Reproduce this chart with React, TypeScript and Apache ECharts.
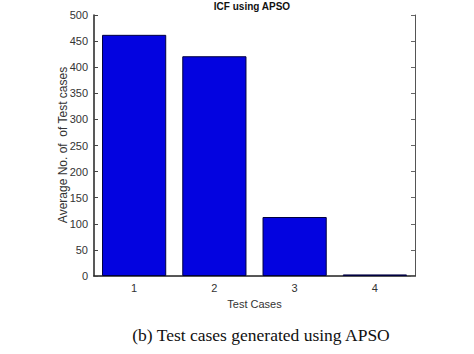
import React, { useEffect, useRef } from "react";
import * as echarts from "echarts";

const categories = ["1", "2", "3", "4"];
const values = [462, 421, 113, 3];
const yTicks = { min: 0, max: 500, interval: 50 };
const titleText = "ICF using APSO";
const xName = "Test Cases";
const yName = "Average No. of  of Test cases";
const caption = "(b) Test cases generated using APSO";

export default function App() {
  const ref = useRef<HTMLDivElement>(null);
  useEffect(() => {
    const chart = echarts.init(ref.current!, null, { renderer: "svg" });
    const font = "Liberation Sans, Arial, sans-serif";
    chart.setOption({
      animation: false,
      backgroundColor: "#fff",
      grid: { left: 94, right: 59, top: 15, bottom: 78 },
      xAxis: [
        {
          type: "category",
          data: categories,
          position: "bottom",
          axisLine: { lineStyle: { color: "#222", width: 1.5 } },
          axisTick: { inside: true, alignWithLabel: true, length: 4, lineStyle: { color: "#444" } },
          axisLabel: { color: "#333", fontSize: 11, fontFamily: font, margin: 6 },
          name: xName,
          nameLocation: "middle",
          nameGap: 22,
          nameTextStyle: { color: "#333", fontSize: 11, fontFamily: font },
        },
        {
          type: "category",
          data: categories,
          position: "top",
          axisLine: { lineStyle: { color: "#555", width: 1 } },
          axisTick: { inside: true, alignWithLabel: true, length: 4, lineStyle: { color: "#666" } },
          axisLabel: { show: false },
        },
      ],
      yAxis: [
        {
          type: "value",
          min: yTicks.min,
          max: yTicks.max,
          interval: yTicks.interval,
          position: "left",
          splitLine: { show: false },
          axisLine: { show: true, lineStyle: { color: "#222", width: 1.5 } },
          axisTick: { show: true, inside: true, length: 4, lineStyle: { color: "#444" } },
          axisLabel: { color: "#333", fontSize: 11, fontFamily: font, margin: 6 },
        },
        {
          type: "value",
          min: yTicks.min,
          max: yTicks.max,
          interval: yTicks.interval,
          position: "right",
          splitLine: { show: false },
          axisLine: { show: true, lineStyle: { color: "#555", width: 1 } },
          axisTick: { show: true, inside: true, length: 4, lineStyle: { color: "#666" } },
          axisLabel: { show: false },
        },
      ],
      graphic: [
        {
          type: "text",
          x: 252,
          y: 6,
          style: {
            text: titleText,
            font: "bold 10px 'Liberation Sans', Arial, sans-serif",
            fill: "#111",
            align: "center",
            verticalAlign: "middle",
          },
        },
        {
          type: "text",
          x: 63,
          y: 145,
          rotation: Math.PI / 2,
          style: {
            text: yName,
            font: "12px 'Liberation Sans', Arial, sans-serif",
            fill: "#333",
            align: "center",
            verticalAlign: "middle",
          },
        },
        {
          type: "text",
          x: 261,
          y: 335,
          style: {
            text: caption,
            font: "17.5px 'Liberation Serif', 'Times New Roman', serif",
            fill: "#111",
            align: "center",
            verticalAlign: "middle",
          },
        },
      ],
      series: [
        {
          type: "bar",
          data: values,
          xAxisIndex: 0,
          yAxisIndex: 0,
          barCategoryGap: "20%",
          itemStyle: { color: "#0303e0", borderColor: "#000040", borderWidth: 1 },
        },
      ],
    });
    return () => chart.dispose();
  }, []);
  return (
    <div
      ref={ref}
      style={{ position: "absolute", left: 0, top: 0, width: 474, height: 354 }}
    />
  );
}
